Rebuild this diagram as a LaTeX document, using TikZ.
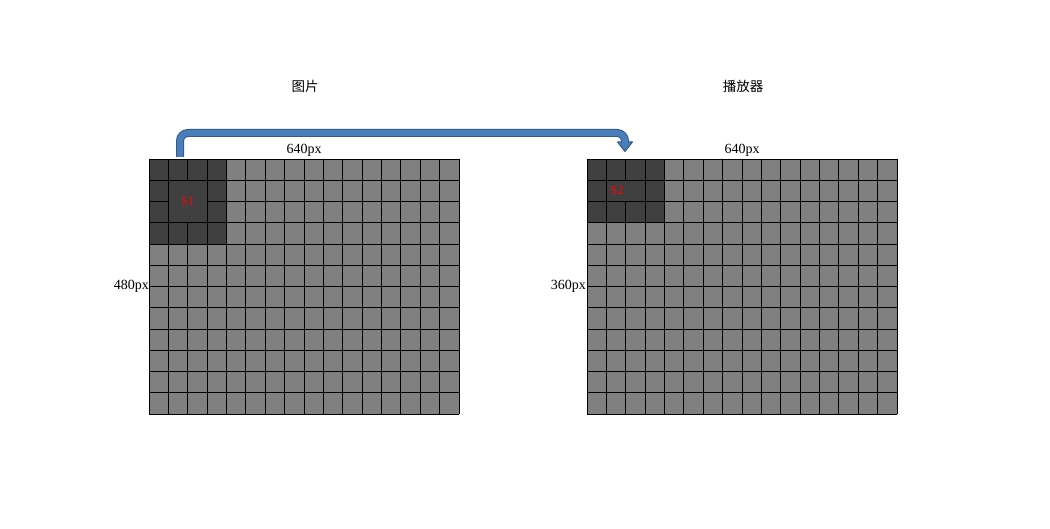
\documentclass[tikz,border=0pt]{standalone}
\usepackage{fontspec}
\setmainfont{Liberation Serif}
\newfontfamily\cjkfont{Noto Sans CJK SC}
\usetikzlibrary{positioning}

\definecolor{cellgray}{HTML}{808080}
\definecolor{celldark}{HTML}{404040}
\definecolor{arrowfill}{HTML}{4A7EBB}
\definecolor{arrowline}{HTML}{35598A}

\begin{document}
\begin{tikzpicture}[x=1pt,y=-1pt]
\tikzset{
  gridline/.style={draw=black, line width=0.9pt, line cap=rect},
  sizelabel/.style={font=\fontsize{14}{16}\selectfont, inner sep=0pt},
  title/.style={font=\cjkfont\fontsize{13.5}{15}\selectfont, inner sep=0pt},
  tag/.style={red, font=\fontsize{12.5}{14}\selectfont, inner sep=0pt},
  bigarrow/.style={draw=arrowline, line width=1pt, double=arrowfill, double distance=6pt, rounded corners=8pt},
}
\useasboundingbox[fill=white] (0,0) rectangle (1050,529);

% left grid (picture, 640x480)
\begin{scope}[shift={(149,159)}, x=19.375pt, y=-21.25pt]
\fill[cellgray] (0,0) rectangle (16,12);
\fill[celldark] (0,0) rectangle (4,4);
\foreach \i in {0,...,16} \draw[gridline] (\i,0) -- (\i,12);
\foreach \j in {0,...,12} \draw[gridline] (0,\j) -- (16,\j);
\filldraw[gridline, fill=celldark] (1,1) rectangle (3,3); % merged block
\node[tag] (s1) at (2,2) {S1};
\coordinate (picN) at (8,0);
\coordinate (picW) at (0,6);
\coordinate (arrowstart) at (1.6,-0.1);
\end{scope}

% right grid (player, 640x360)
\begin{scope}[shift={(587,159)}, x=19.375pt, y=-21.25pt]
\fill[cellgray] (0,0) rectangle (16,12);
\fill[celldark] (0,0) rectangle (4,3);
\foreach \i in {0,...,16} \draw[gridline] (\i,0) -- (\i,12);
\foreach \j in {0,...,12} \draw[gridline] (0,\j) -- (16,\j);
\filldraw[gridline, fill=celldark] (1,1) rectangle (3,2); % merged block
\node[tag] (s2) at (1.55,1.5) {S2};
\coordinate (playerN) at (8,0);
\coordinate (playerW) at (0,6);
\end{scope}

% titles and sizes
\node[title] (pictitle) at (305,86) {图片};
\node[title] (playertitle) at (743,86) {播放器};
\node[sizelabel, above=2pt of picN] (picw) {640px};
\node[sizelabel, left=0pt of picW] (pich) {480px};
\node[sizelabel, above=2pt of playerN] (playerw) {640px};
\node[sizelabel, left=1pt of playerW] (playerh) {360px};

% block arrow
\coordinate (arrowend) at (625,151.5);
\coordinate (arrowbend) at (625,133);
\filldraw[fill=arrowfill, draw=arrowline, line width=1pt, line join=round] (617.5,142) -- (632.5,142) -- (arrowend) -- cycle;
\draw[bigarrow] (arrowstart) |- (arrowbend) -- ++(0,10);
\end{tikzpicture}
\end{document}
